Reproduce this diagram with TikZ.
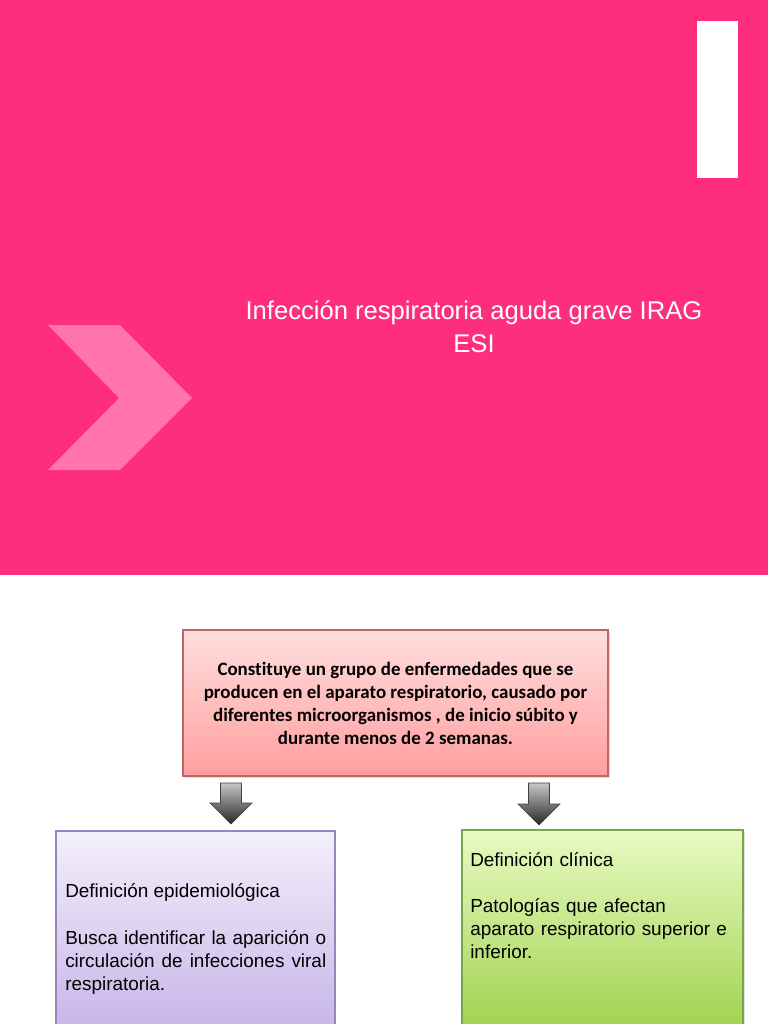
\documentclass[tikz,border=0pt]{standalone}
\usepackage{fontspec}
\setmainfont{Liberation Sans}
\newfontfamily\boxfont[Ligatures=NoCommon]{Carlito}
\usetikzlibrary{shadows}

\definecolor{slidepink}{RGB}{255,45,125}
\definecolor{chevpink}{RGB}{255,117,171}
\definecolor{rosetop}{RGB}{255,222,222}
\definecolor{rosebot}{RGB}{255,158,158}
\definecolor{roseline}{RGB}{184,104,104}
\definecolor{lilactop}{RGB}{243,239,251}
\definecolor{lilacbot}{RGB}{198,180,232}
\definecolor{lilacline}{RGB}{150,134,190}
\definecolor{limetop}{RGB}{232,250,194}
\definecolor{limebot}{RGB}{158,210,78}
\definecolor{limeline}{RGB}{118,166,72}

\begin{document}
\begin{tikzpicture}[x=0.75pt,y=-0.75pt,
  card/.style={draw, line width=0.9pt, inner sep=0pt},
  blockarrow/.style={draw=black!75, line width=0.5pt,
    top color=black!22, bottom color=black!85},
  bodytext/.style={inner sep=0pt, font=\fontsize{14.2}{17.25}\selectfont}]
\useasboundingbox (0,0) rectangle (768,1024);
% slide
\fill[slidepink] (0,0) rectangle (768,575);
\fill[white] (697,21) rectangle (738,178);
\fill[chevpink] (48,325) -- (120,325) -- (192,398) -- (120,470)
  -- (48,470) -- (119,398) -- cycle;
\node[text=white, align=center, inner sep=0pt,
  font=\fontsize{19.2}{24.75}\selectfont] (title) at (474,327)
  {Infección respiratoria aguda grave IRAG\\ESI};
% boxes
\node[card, draw=roseline, top color=rosetop, bottom color=rosebot,
  drop shadow={opacity=0.25, shadow xshift=1.5pt, shadow yshift=-1.5pt},
  minimum width=318.75pt, minimum height=109.5pt,
  align=center, font=\boxfont\bfseries\fontsize{14.2}{17.25}\selectfont] (grupo) at (395.5,703)
  {Constituye un grupo de enfermedades que se\\
   producen en el aparato respiratorio, causado por\\
   diferentes microorganismos , de inicio súbito y\\
   durante menos de 2 semanas.};
\node[card, draw=lilacline, top color=lilactop, bottom color=lilacbot,
  minimum width=209.25pt, minimum height=152.25pt] (epi) at (195.5,932.5) {};
\node[card, draw=limeline, top color=limetop, bottom color=limebot,
  drop shadow={opacity=0.25, shadow xshift=1.5pt, shadow yshift=-1.5pt},
  minimum width=210.75pt, minimum height=153pt] (clin) at (602.5,932) {};
\node[bodytext, anchor=north west, text width=195.75pt, align=justify] (epitxt) at (65,883)
  {Definición epidemiológica\\[18pt]
   Busca identificar la aparición o\linebreak
   circulación de infecciones viral\linebreak
   respiratoria.};
\node[bodytext, anchor=north west, text width=210pt, align=left] (clintxt) at (470,852)
  {Definición clínica\\[17.25pt]
   Patologías que afectan\\
   aparato respiratorio superior e\\
   inferior.};
% arrows
\coordinate (arrepi) at (231,783);
\coordinate (arrclin) at (539,783);
\draw[blockarrow] (arrepi) ++(-10.5,0) -- ++(21,0) -- ++(0,20) -- ++(10.5,0)
  -- ++(-21,21) -- ++(-21,-21) -- ++(10.5,0) -- cycle;
\draw[blockarrow] (arrclin) ++(-10.5,0) -- ++(21,0) -- ++(0,21) -- ++(10.5,0)
  -- ++(-21,21) -- ++(-21,-21) -- ++(10.5,0) -- cycle;
\end{tikzpicture}
\end{document}
